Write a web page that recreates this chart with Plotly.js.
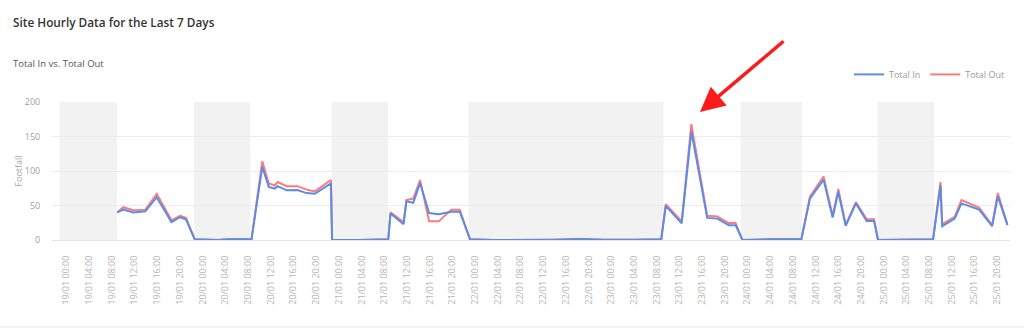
<!DOCTYPE html>
<html>
<head>
<meta charset="utf-8">
<script src="https://cdn.plot.ly/plotly-3.0.1.min.js"></script>
<style>
html,body{margin:0;padding:0;background:#fff;}
#chart{width:1024px;height:329px;}
</style>
</head>
<body>
<div id="chart"></div>
<script>
// Time stamps of line vertices
const times = [
 "2023-01-19 08:57","2023-01-19 10:00","2023-01-19 11:48","2023-01-19 13:54","2023-01-19 15:54",
 "2023-01-19 18:30","2023-01-19 20:00","2023-01-19 21:03","2023-01-19 22:36",
 "2023-01-20 00:24","2023-01-20 02:42","2023-01-20 04:30","2023-01-20 08:36",
 "2023-01-20 10:30","2023-01-20 11:39","2023-01-20 12:42","2023-01-20 13:12","2023-01-20 14:48",
 "2023-01-20 16:42","2023-01-20 18:18","2023-01-20 19:45","2023-01-20 22:36","2023-01-20 22:48",
 "2023-01-21 03:42","2023-01-21 08:42","2023-01-21 09:06","2023-01-21 11:24","2023-01-21 11:54",
 "2023-01-21 13:06","2023-01-21 14:18","2023-01-21 15:54","2023-01-21 17:36","2023-01-21 19:48",
 "2023-01-21 21:18","2023-01-21 23:06",
 "2023-01-22 03:12","2023-01-22 07:54","2023-01-22 13:48","2023-01-22 18:30","2023-01-22 22:36",
 "2023-01-23 04:24","2023-01-23 08:48","2023-01-23 09:36","2023-01-23 12:24","2023-01-23 14:06",
 "2023-01-23 16:54","2023-01-23 18:42","2023-01-23 20:42","2023-01-23 21:54","2023-01-23 23:06",
 "2023-01-24 04:00","2023-01-24 09:30","2023-01-24 11:00","2023-01-24 13:24","2023-01-24 15:00",
 "2023-01-24 16:00","2023-01-24 17:18","2023-01-24 19:06","2023-01-24 21:00","2023-01-24 22:18",
 "2023-01-24 23:00",
 "2023-01-25 04:00","2023-01-25 08:42","2023-01-25 10:00","2023-01-25 10:18","2023-01-25 12:30",
 "2023-01-25 13:42","2023-01-25 16:48","2023-01-25 19:06","2023-01-25 20:06","2023-01-25 21:48"
];
const totalIn = [
 40,44,40,41.5,62, 26,33,30,1,
 0.5,0,1,1,
 106,77,74.5,78,72, 72.5,68,67,82,0,
 0,1,38.5,23,56, 54,82.5,39,37.5,41, 41,1,
 0,0,0.5,1.5,0.5,
 0.5,1,49.5,24,157.5, 32,31,21.5,21.5,0,
 1,1.5,60,87.5,32.5, 69.5,20.5,53,27.5,27.5, 0,
 0.5,1,79,20,31, 53,44,20,63.5,21.5
];
const totalOut = [
 40,47.5,43,44,67, 28.5,35,32,1,
 0.5,0,1,1,
 114,82,79,84,78, 78,73,70.5,87,0,
 0,1,40,26,58, 60,87,27,27,44, 44,1,
 0,0,0.5,1.5,0.5,
 0.5,1,52,27,168, 35,34,24.5,24.5,0,
 1,1.5,63,92,35, 74,22,55,30,30, 0,
 0.5,1,84,23,33.5, 58,47,21.5,68,22
];
// Closed-hours shaded bands (start, end)
const bandStart = ["2023-01-18 22:48","2023-01-19 22:30","2023-01-20 22:42","2023-01-21 22:48","2023-01-23 22:48","2023-01-24 22:54"];
const bandEnd   = ["2023-01-19 08:54","2023-01-20 08:24","2023-01-21 08:42","2023-01-23 09:12","2023-01-24 09:36","2023-01-25 08:54"];
const seriesNames = ["Total In","Total Out"];
const yTicks = [0,50,100,150,200];

const FONT = "'Open Sans', 'Noto Sans', sans-serif";
const BLUE = "#5a8de6", RED = "#ff7b7b";

const traces = [
 {x: times, y: totalOut, name: seriesNames[1], type: "scatter", mode: "lines",
  line: {color: RED, width: 2}, legendrank: 2, hoverinfo: "x+y+name"},
 {x: times, y: totalIn, name: seriesNames[0], type: "scatter", mode: "lines",
  line: {color: BLUE, width: 2}, legendrank: 1, hoverinfo: "x+y+name"}
];

const shapes = bandStart.map((s, i) => ({
 type: "rect", xref: "x", yref: "paper", x0: s, x1: bandEnd[i], y0: 0, y1: 1,
 fillcolor: "#f2f2f2", line: {width: 0}, layer: "below"
}));
// card edge
shapes.push({type: "line", xref: "paper", yref: "paper", x0: -0.0543, x1: 1.0146, y0: -0.63, y1: -0.63,
 line: {color: "#e6e6e6", width: 1}});

const layout = {
 width: 1024, height: 329,
 paper_bgcolor: "#ffffff", plot_bgcolor: "#ffffff",
 margin: {l: 52, r: 14, t: 102, b: 89},
 font: {family: FONT, color: "#999"},
 showlegend: true,
 legend: {orientation: "h", x: 1.0, xanchor: "right", y: 1.2, yanchor: "middle",
   font: {size: 9, color: "#999", family: FONT}, itemwidth: 30, bgcolor: "rgba(0,0,0,0)"},
 xaxis: {type: "date", range: ["2023-01-18 21:27", "2023-01-25 22:15"],
   tick0: "2023-01-19 00:00", dtick: 4*3600*1000, tickformat: "%d/%m %H:%M",
   tickangle: -90, tickfont: {size: 9, color: "#b5b5b5", family: FONT},
   showgrid: false, zeroline: false, showline: false,
   ticks: "outside", ticklen: 11, tickcolor: "rgba(0,0,0,0)", fixedrange: true},
 yaxis: {range: [0, 200], tickvals: yTicks, ticktext: yTicks.map(String),
   tickfont: {size: 9, color: "#a0a0a0", family: FONT},
   gridcolor: "#ececec", gridwidth: 1, zeroline: true, zerolinecolor: "#e4e4e4", zerolinewidth: 1,
   showline: false, ticks: "outside", ticklen: 9, tickcolor: "rgba(0,0,0,0)",
   title: {text: "Footfall", font: {size: 9, color: "#aaa", family: FONT}, standoff: 0},
   fixedrange: true},
 shapes: shapes,
 annotations: [
  {text: "Site Hourly Data for the Last 7 Days", xref: "paper", yref: "paper",
   x: -0.0425, y: 1.58, xanchor: "left", yanchor: "middle", showarrow: false,
   font: {size: 11.8, color: "#333", family: FONT, weight: 600}},
  {text: "Total In vs. Total Out", xref: "paper", yref: "paper",
   x: -0.0425, y: 1.28, xanchor: "left", yanchor: "middle", showarrow: false,
   font: {size: 9.5, color: "#555", family: FONT}},
  {text: "", xref: "paper", yref: "paper", x: 0.6764, y: 0.9275,
   showarrow: true, ax: 85, ay: -72, axref: "pixel", ayref: "pixel",
   arrowcolor: "#ff1a1a", arrowwidth: 3.5, arrowhead: 2, arrowsize: 1.4, standoff: 0}
 ]
};

Plotly.newPlot("chart", traces, layout, {displayModeBar: false, staticPlot: false});
</script>
</body>
</html>
